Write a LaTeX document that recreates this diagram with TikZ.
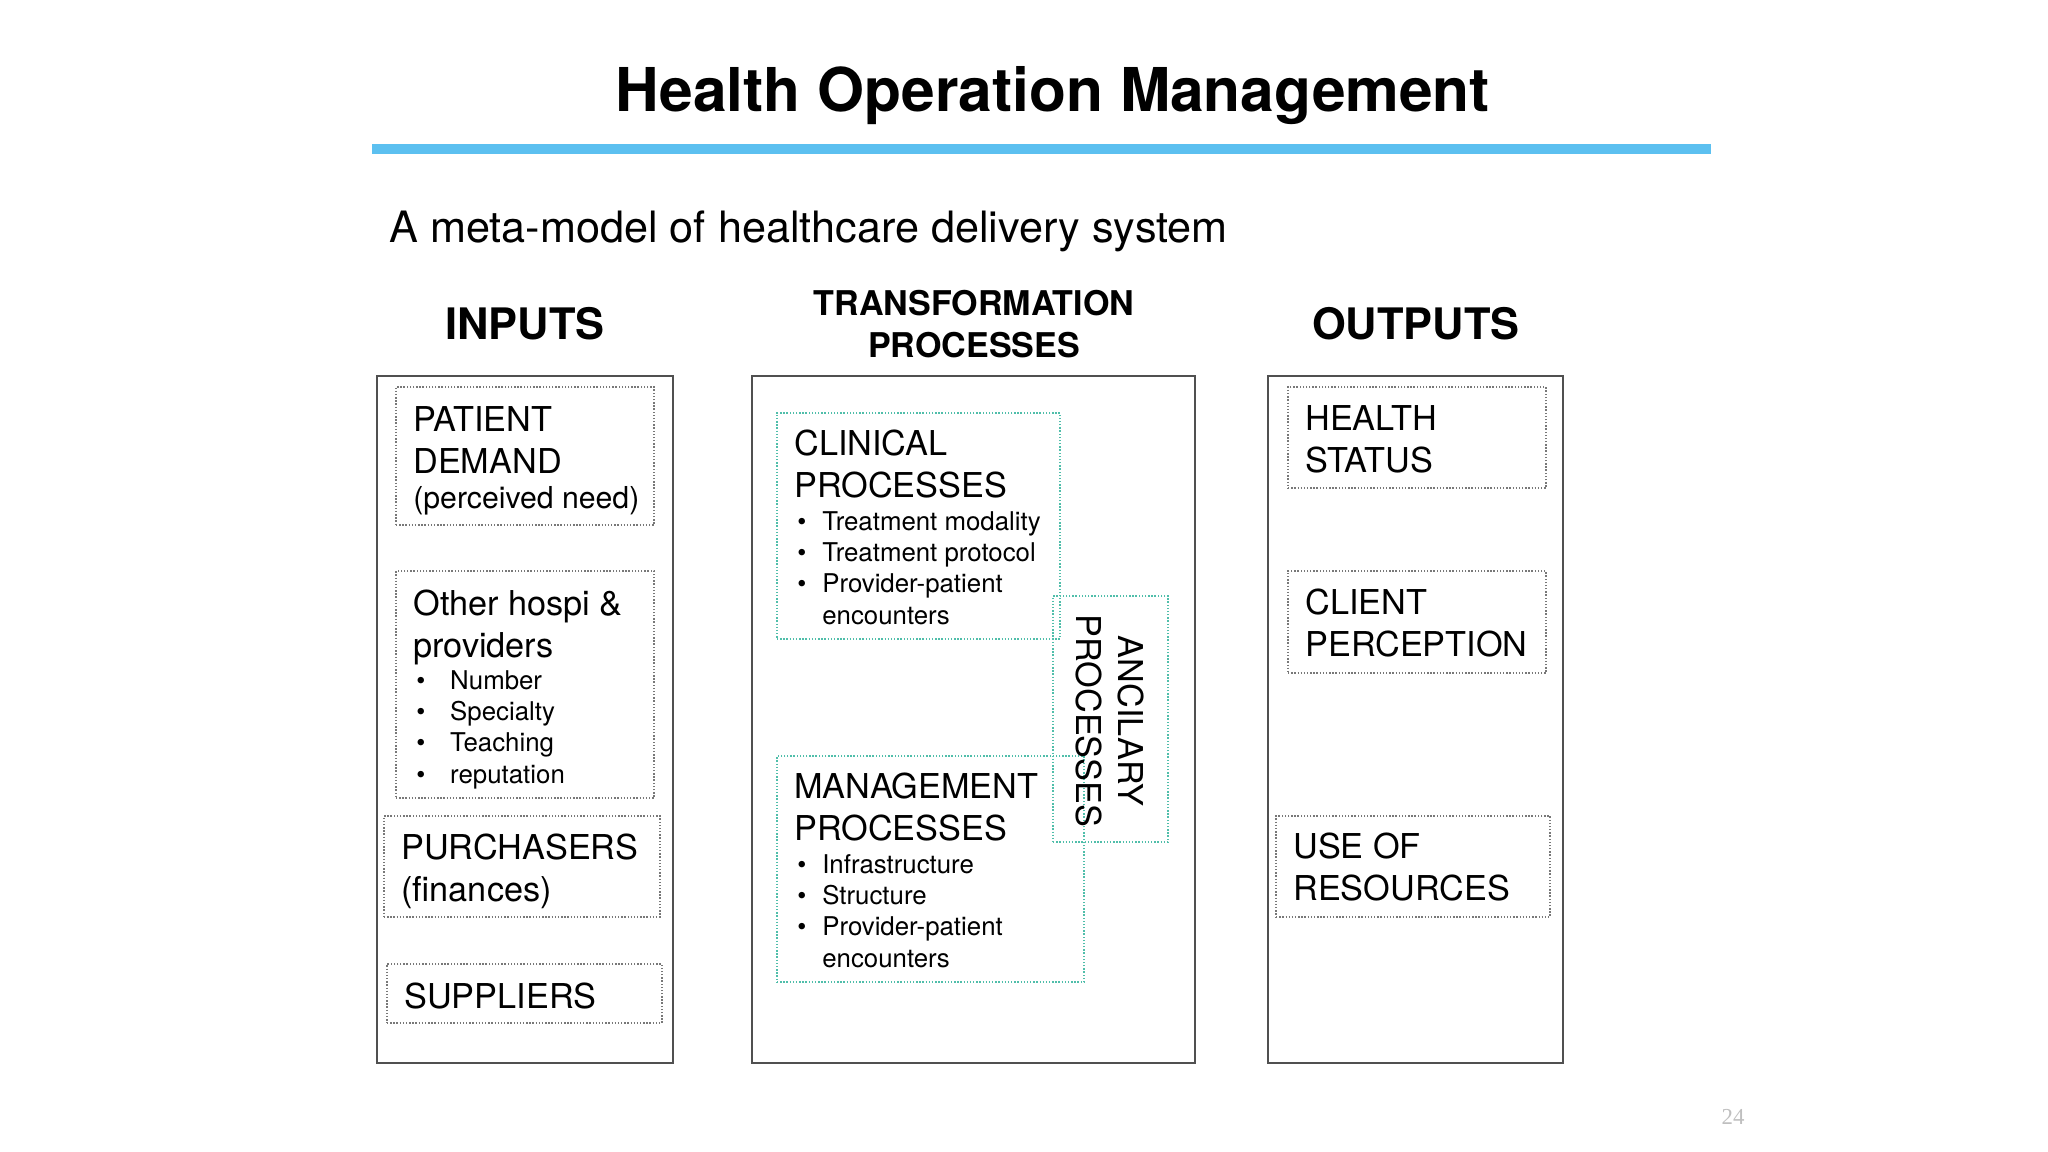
\documentclass[tikz,border=0pt]{standalone}
\usepackage{fontspec}
\setmainfont{TeX Gyre Heros}
\newfontfamily\pagenumfont{Liberation Serif}
\usetikzlibrary{fit}
\definecolor{barblue}{RGB}{92,192,240}
\definecolor{procteal}{RGB}{80,190,170}
\definecolor{boxgray}{RGB}{80,80,80}
\definecolor{dotgray}{RGB}{120,120,120}
\newcommand\bitem[2]{\makebox[#1][l]{•}#2}
\begin{document}
\begin{tikzpicture}[x=0.02cm,y=-0.02cm,
  outerbox/.style={draw=boxgray, line width=1.1pt, inner sep=0pt, fit={#1}},
  innerbox/.style={draw=dotgray, densely dotted, line width=0.8pt, inner sep=0pt, fit={#1}},
  procbox/.style={draw=procteal, densely dotted, line width=0.8pt, inner sep=0pt, fit={#1}},
  maintext/.style={anchor=north west, inner sep=0pt, align=left, font=\fontsize{19.5}{23.9}\selectfont},
  bullettext/.style={anchor=north west, inner sep=0pt, align=left, font=\fontsize{14.7}{17.8}\selectfont},
  header/.style={inner sep=0pt, align=center, font=\bfseries\fontsize{24.7}{29}\selectfont}]
\useasboundingbox[fill=white] (0,0) rectangle (2048,1152);

% title
\node[inner sep=0pt, font=\bfseries\fontsize{34.4}{40}\selectfont] (title) at (1053,96) {Health Operation Management};
\fill[barblue] (372,144) rectangle (1711,154);
\node[anchor=west, inner sep=0pt, font=\fontsize{24.6}{29}\selectfont] (subtitle) at (389,231) {A meta-model of healthcare delivery system};

% headers
\node[header] (hin) at (525,324) {INPUTS};
\node[inner sep=0pt, align=center, font=\bfseries\fontsize{19.4}{23.9}\selectfont] (htr) at (974,324) {TRANSFORMATION\\PROCESSES};
\node[header] (hout) at (1416,324) {OUTPUTS};

% outer boxes
\node[outerbox={(377,376) (673,1063)}] (inputs) {};
\node[outerbox={(752,376) (1195,1063)}] (trans) {};
\node[outerbox={(1268,376) (1563,1063)}] (outputs) {};

% inputs
\node[innerbox={(396,387) (654,525)}] (pdbox) {};
\node[maintext] (pdtext) at (413,406) {PATIENT\\DEMAND\\[-4pt]{\fontsize{17.2}{21}\selectfont (perceived need)}};
\node[innerbox={(396,571) (654,798)}] (ohbox) {};
\node[maintext] (ohtext) at (413,590) {Other hospi \&\\providers};
\node[bullettext] (ohlist) at (416,670) {\bitem{19.3pt}{Number}\\\bitem{19.3pt}{Specialty}\\\bitem{19.3pt}{Teaching}\\\bitem{19.3pt}{reputation}};
\node[innerbox={(384,816) (660,917)}] (pubox) {};
\node[maintext] (putext) at (401,834) {PURCHASERS\\(finances)};
\node[innerbox={(387,964) (662,1023)}] (subox) {};
\node[maintext] (sutext) at (404,983) {SUPPLIERS};

% transformation
\node[procbox={(777,413) (1060,639)}] (clbox) {};
\node[maintext] (cltext) at (794,430) {CLINICAL\\PROCESSES};
\node[bullettext] (cllist) at (797,511) {\bitem{14.2pt}{Treatment modality}\\\bitem{14.2pt}{Treatment protocol}\\\bitem{14.2pt}{Provider-patient}\\\hspace*{14.2pt}encounters};
\node[procbox={(777,756) (1084,982)}] (mabox) {};
\node[maintext] (matext) at (794,773) {MANAGEMENT\\PROCESSES};
\node[bullettext] (malist) at (797,854) {\bitem{14.2pt}{Infrastructure}\\\bitem{14.2pt}{Structure}\\\bitem{14.2pt}{Provider-patient}\\\hspace*{14.2pt}encounters};
\node[procbox={(1053,596) (1168,842)}] (anbox) {};
\node[rotate=-90, inner sep=0pt, align=center, font=\fontsize{19.5}{23.9}\selectfont] (antext) at (1110,721) {ANCILARY\\PROCESSES};

% outputs
\node[innerbox={(1288,387) (1546,488)}] (hsbox) {};
\node[maintext] (hstext) at (1305,405) {HEALTH\\STATUS};
\node[innerbox={(1288,571) (1546,673)}] (cpbox) {};
\node[maintext] (cptext) at (1305,589) {CLIENT\\PERCEPTION};
\node[innerbox={(1276,816) (1550,917)}] (urbox) {};
\node[maintext] (urtext) at (1293,833) {USE OF\\RESOURCES};

% page number
\node[inner sep=0pt, text=black!25, font=\pagenumfont\fontsize{13}{15}\selectfont] (pagenum) at (1733,1117) {24};
\end{tikzpicture}
\end{document}
